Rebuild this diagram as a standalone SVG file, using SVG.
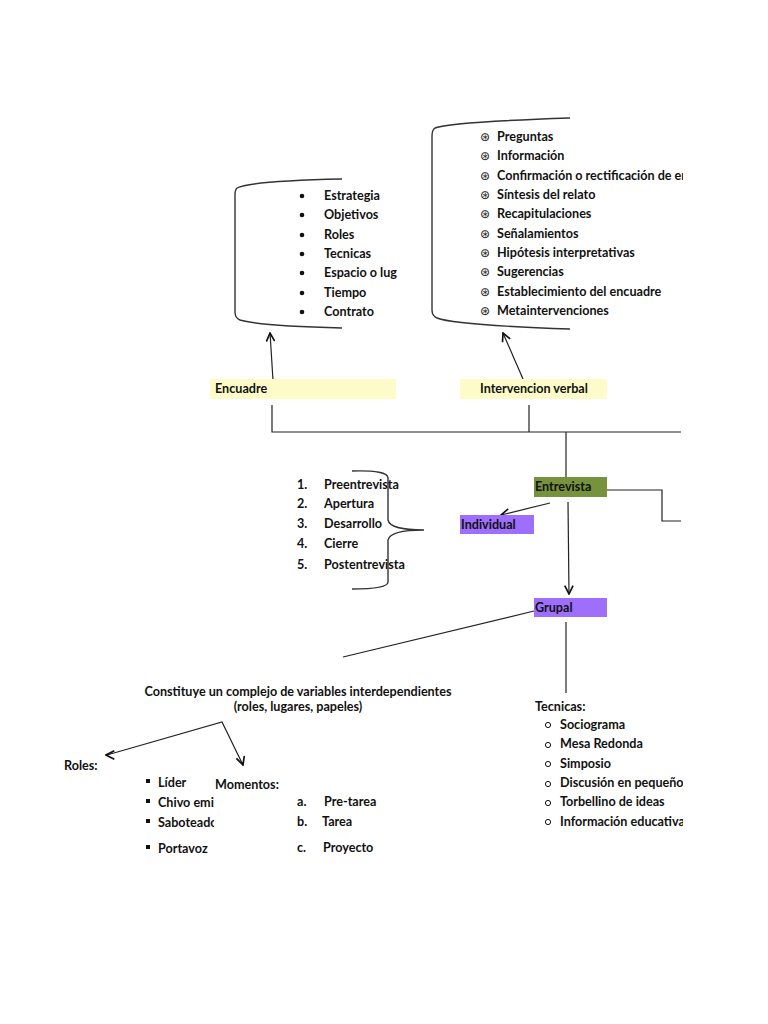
<svg xmlns="http://www.w3.org/2000/svg" width="768" height="1024" viewBox="0 0 768 1024">
<style>
text{font-family:Lato,"Liberation Sans",sans-serif;font-size:12.6px;font-weight:bold;fill:#111}
.ln{fill:none;stroke:#222;stroke-width:1.2}
.br{fill:none;stroke:#333;stroke-width:1.4}
.y{fill:#fdfcc9}
.g{fill:#76923c}
.p{fill:#9d6ffc}
.sym{font-family:"DejaVu Sans",sans-serif;font-size:12px;font-weight:normal}
</style>
<defs>
<marker id="ah" viewBox="0 0 12 12" refX="11" refY="6" markerWidth="10" markerHeight="10" markerUnits="userSpaceOnUse" orient="auto">
<path d="M1,1 L11,6 L1,11" fill="none" stroke="#111" stroke-width="2"/>
</marker>
<clipPath id="c1"><rect x="230" y="170" width="167" height="165"/></clipPath>
<clipPath id="c2"><rect x="425" y="110" width="258" height="225"/></clipPath>
<clipPath id="c3"><rect x="140" y="770" width="74" height="90"/></clipPath>
<clipPath id="c4"><rect x="530" y="700" width="153" height="130"/></clipPath>
<clipPath id="cpage"><rect x="0" y="0" width="681" height="1024"/></clipPath>
</defs>

<g id="encuadre-list" clip-path="url(#c1)">
<path class="br" d="M342,179 Q250,181 237,188 Q235,190 235,195 L235,312 Q235,318 240,320 Q260,326 342,328"/>
<g>
<circle cx="302" cy="196" r="2.3" fill="#111"/><text x="324" y="200">Estrategia</text>
<circle cx="302" cy="215" r="2.3" fill="#111"/><text x="324" y="219">Objetivos</text>
<circle cx="302" cy="235" r="2.3" fill="#111"/><text x="324" y="239">Roles</text>
<circle cx="302" cy="254" r="2.3" fill="#111"/><text x="324" y="258">Tecnicas</text>
<circle cx="302" cy="273" r="2.3" fill="#111"/><text x="324" y="277">Espacio o lugar</text>
<circle cx="302" cy="293" r="2.3" fill="#111"/><text x="324" y="297">Tiempo</text>
<circle cx="302" cy="312" r="2.3" fill="#111"/><text x="324" y="316">Contrato</text>
</g>
</g>

<g id="intervencion-list" clip-path="url(#c2)">
<path class="br" d="M570,118 Q450,122 435,128 Q432,130 432,136 L432,310 Q432,316 437,318 Q455,325 570,329"/>
<text class="sym" x="480" y="141">⊛</text><text x="497" y="141">Preguntas</text>
<text class="sym" x="480" y="160">⊛</text><text x="497" y="160">Información</text>
<text class="sym" x="480" y="180">⊛</text><text x="497" y="180">Confirmación o rectificación de enunciados</text>
<text class="sym" x="480" y="199">⊛</text><text x="497" y="199">Síntesis del relato</text>
<text class="sym" x="480" y="218">⊛</text><text x="497" y="218">Recapitulaciones</text>
<text class="sym" x="480" y="238">⊛</text><text x="497" y="238">Señalamientos</text>
<text class="sym" x="480" y="257">⊛</text><text x="497" y="257">Hipótesis  interpretativas</text>
<text class="sym" x="480" y="276">⊛</text><text x="497" y="276">Sugerencias</text>
<text class="sym" x="480" y="296">⊛</text><text x="497" y="296">Establecimiento del encuadre</text>
<text class="sym" x="480" y="315">⊛</text><text x="497" y="315">Metaintervenciones</text>
</g>

<g id="connectors" clip-path="url(#cpage)">
<line class="ln" x1="273" y1="380" x2="270" y2="333" marker-end="url(#ah)"/>
<line class="ln" x1="523" y1="379" x2="503" y2="333" marker-end="url(#ah)"/>
<polyline class="ln" points="272,405 272,432 700,432"/>
<line class="ln" x1="529" y1="405" x2="529" y2="432"/>
<line class="ln" x1="566" y1="432" x2="566" y2="477"/>
<polyline class="ln" points="607,490 662,490 662,521 700,521"/>
<line class="ln" x1="550" y1="503" x2="501" y2="515" marker-end="url(#ah)"/>
<line class="ln" x1="568" y1="502" x2="569" y2="594" marker-end="url(#ah)"/>
<line class="ln" x1="534" y1="611" x2="343" y2="657"/>
<line class="ln" x1="566" y1="622" x2="566" y2="693"/>
<polyline class="ln" points="107,755 222,722 243,765"/>
<line class="ln" x1="107" y1="755" x2="106" y2="755" marker-end="url(#ah)"/>
<line class="ln" x1="242" y1="762" x2="243" y2="765" marker-end="url(#ah)"/>
</g>

<g id="encuadre">
<rect class="y" x="210" y="379" width="186" height="20"/>
<text x="215" y="393">Encuadre</text>
</g>
<g id="intervencion-verbal">
<rect class="y" x="460" y="379" width="147" height="20"/>
<text x="480" y="393">Intervencion verbal</text>
</g>
<g id="entrevista">
<rect class="g" x="534" y="477" width="73" height="20"/>
<text x="535" y="491">Entrevista</text>
</g>
<g id="individual">
<rect class="p" x="460" y="515" width="74" height="19"/>
<text x="461" y="529">Individual</text>
</g>
<g id="grupal">
<rect class="p" x="534" y="598" width="73" height="19"/>
<text x="535" y="612">Grupal</text>
</g>

<g id="etapas">
<text x="297" y="489">1.</text><text x="324" y="489">Preentrevista</text>
<text x="297" y="508">2.</text><text x="324" y="508">Apertura</text>
<text x="297" y="528">3.</text><text x="324" y="528">Desarrollo</text>
<text x="297" y="548">4.</text><text x="324" y="548">Cierre</text>
<text x="297" y="569">5.</text><text x="324" y="569">Postentrevista</text>
<path class="br" d="M352,471 Q388,470 388,478 L388,520 Q390,530 424,530 Q390,530 388,540 L388,582 Q388,589 352,589"/>
</g>

<g id="complejo">
<text x="298" y="696" text-anchor="middle">Constituye un complejo de variables interdependientes</text>
<text x="298" y="711" text-anchor="middle">(roles, lugares, papeles)</text>
</g>

<g id="roles">
<text x="64" y="770">Roles:</text>
<g clip-path="url(#c3)">
<rect x="146" y="779" width="4" height="4" fill="#111"/><text x="158" y="787">Líder</text>
<rect x="146" y="799" width="4" height="4" fill="#111"/><text x="158" y="807">Chivo emisario</text>
<rect x="146" y="819" width="4" height="4" fill="#111"/><text x="158" y="827">Saboteador</text>
<rect x="146" y="845" width="4" height="4" fill="#111"/><text x="158" y="853">Portavoz</text>
</g>
</g>

<g id="momentos">
<text x="215" y="789">Momentos:</text>
<text x="297" y="806">a.</text><text x="324" y="806">Pre-tarea</text>
<text x="297" y="826">b.</text><text x="322" y="826">Tarea</text>
<text x="297" y="852">c.</text><text x="323" y="852">Proyecto</text>
</g>

<g id="tecnicas">
<text x="535" y="711">Tecnicas:</text>
<g clip-path="url(#c4)">
<circle cx="548" cy="725" r="2.6" fill="none" stroke="#111" stroke-width="1"/><text x="560" y="729">Sociograma</text>
<circle cx="548" cy="745" r="2.6" fill="none" stroke="#111" stroke-width="1"/><text x="560" y="748">Mesa Redonda</text>
<circle cx="548" cy="764" r="2.6" fill="none" stroke="#111" stroke-width="1"/><text x="560" y="768">Simposio</text>
<circle cx="548" cy="784" r="2.6" fill="none" stroke="#111" stroke-width="1"/><text x="560" y="787">Discusión en pequeños grupos</text>
<circle cx="548" cy="803" r="2.6" fill="none" stroke="#111" stroke-width="1"/><text x="560" y="806">Torbellino de ideas</text>
<circle cx="548" cy="822" r="2.6" fill="none" stroke="#111" stroke-width="1"/><text x="560" y="826">Información educativa</text>
</g>
</g>
</svg>
